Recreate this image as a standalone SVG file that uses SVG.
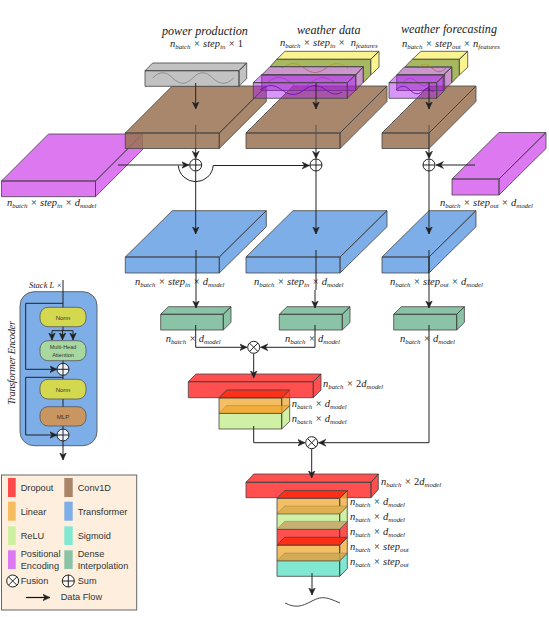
<svg xmlns="http://www.w3.org/2000/svg" width="549" height="617" viewBox="0 0 549 617">
<style>
.b{stroke:#444;stroke-width:.8;stroke-linejoin:round}
.brown{fill:#9b7354;fill-opacity:.86}
.blue{fill:#7eaee8}
.pe{fill:#dc78f0}
.green{fill:#8ac3a5}
.red{fill:#ff3030;fill-opacity:.85}
.orange{fill:#f0a830;fill-opacity:.75}
.lime{fill:#cdf0a0;fill-opacity:.95}
.cyan{fill:#80e8d0}
.gray{fill:#c2c2c2}
.yellow{fill:#faf490}
.olive{fill:#92a63a;fill-opacity:.8}
.mag{fill:#a040a0;fill-opacity:.55}
.pur{fill:#a818f0;fill-opacity:.45}
.w{fill:none;stroke-width:.9}
.l{fill:none;stroke:#222;stroke-width:1}
.f{fill:none;stroke:#555;stroke-width:1}
.c{fill:#fff;fill-opacity:.85;stroke:#222;stroke-width:1}
.t{font-family:"Liberation Serif",serif;font-style:italic;font-size:12.1px;fill:#222}
.d{font-family:"Liberation Serif",serif;font-style:italic;font-size:10.5px;fill:#222}
.d .s{font-size:6.8px}
.d .n{font-style:normal}
.lg{font-family:"Liberation Sans",sans-serif;font-size:9.2px;fill:#333}
</style>
<defs>
<marker id="a" markerWidth="9" markerHeight="9" refX="7.5" refY="4" orient="auto" markerUnits="userSpaceOnUse"><path d="M0 .5L7.5 4L0 7.500L2.500 4z" fill="#222" stroke="#222" stroke-width=".5"/></marker>
<g id="sum"><circle r="6" class="c"/><path d="M-6 0H6M0-6V6" stroke="#222" stroke-width="1"/></g>
<g id="fus"><circle r="6" class="c"/><path d="M-4.200-4.200L4.200 4.200M-4.200 4.200L4.200-4.200" stroke="#222" stroke-width="1"/></g>
</defs>
<g id="pe-left"><path class="b pe" d="M1.500 181h94v15.700h-94zM1.500 181l47-47h94l-47 47zM95.500 181l47-47v15.700l-47 47z"/></g>
<g id="pe-right"><path class="b pe" d="M452 179h47v16h-47zM452 179l47-46.500h47l-47 46.500zM499 179l47-46.500v16l-47 46.500z"/></g>
<g id="conv1"><path class="b brown" d="M125.300 133h94v15.500h-94zM125.300 133l47-47h94l-47 47zM219.300 133l47-47v15.500l-47 47z"/></g>
<g id="conv2"><path class="b brown" d="M246 133h94v15.500h-94zM246 133l47-47h94l-47 47zM340 133l47-47v15.500l-47 47z"/></g>
<g id="conv3"><path class="b brown" d="M382 133h47v15.500h-47zM382 133l47-47h47l-47 47zM429 133l47-47v15.500l-47 47z"/></g>
<g id="power-input"><path class="b gray" d="M145 70.700h94v15.600h-94zM145 70.700l7.700-7.700h94l-7.700 7.700zM239 70.700l7.700-7.700v15.600l-7.700 7.700z"/><path class="w" stroke="#888" d="M152.700 78c7-7 13-7 20 0s13 7 20 0s13-7 20 0s14 7 21 0"/></g>
<g id="weather-input">
<path class="b yellow" d="M276.700 59.300l8.300-8h94l-8.300 8zM370.700 59.300l8.300-8v16l-8.300 7.700z"/>
<path class="b olive" d="M276.700 59.300h94v15.700l-7.500 7.700v-16h-93.200z"/>
<path class="w" stroke="#b0a020" d="M282 68c8-6 14-6 22 0s14 6 22 0s14-6 22 0"/>
<path class="b mag" d="M261.700 75l8.300-8.300h93.300l-7.600 8.300zM261.700 75h94v15.500h-94zM355.700 75l7.600-8.300v15.500l-7.600 8.300z"/>
<path class="w" stroke="#c050c0" d="M268 82c8-6 14-6 22 0s14 6 22 0s14-6 22 0"/>
<path class="b pur" d="M253.300 82.700h94v15.600h-94zM253.300 82.700l8.400-8h94l-8.400 8zM347.300 82.700l8.400-8v15.600l-8.400 8z"/>
<path class="w" stroke="#7010c0" d="M260 90c8-6 14-6 22 0s14 6 22 0s14-6 22 0s12 4 16 2"/>
</g>
<g id="forecast-input">
<path class="b yellow" d="M412.300 59.300l8.700-8h46.700l-8.400 8zM459.300 59.300l8.400-8v16l-8.400 7.700z"/>
<path class="b olive" d="M412.300 59.300h47v15.700l-7.500 7.700v-16h-46.800z"/>
<path class="w" stroke="#b0a020" d="M418 68c5-5 9-5 14 0s9 5 14 0"/>
<path class="b mag" d="M396.700 75l7.300-7.700h47.700l-8.400 7.700zM396.700 75h46.600v15.500h-46.600zM443.300 75l8.400-7.700v15.500l-8.400 7.700z"/>
<path class="w" stroke="#c050c0" d="M403 82c5-5 9-5 14 0s9 5 14 0"/>
<path class="b pur" d="M389 82.700h47.700v15.600h-47.700zM389 82.700l8-8h47.700l-8 8zM436.700 82.700l8-8v15.600l-8 8z"/>
<path class="w" stroke="#7010c0" d="M396 90c5-5 9-5 14 0s9 5 14 0s7 3 10 1"/>
</g>
<g id="trans1"><path class="b blue" d="M125.300 257h94v16h-94zM125.300 257l47-46.300h94l-47 46.300zM219.300 257l47-46.300v16l-47 46.300z"/></g>
<g id="trans2"><path class="b blue" d="M246 257h94v16h-94zM246 257l47-46.300h94l-47 46.300zM340 257l47-46.300v16l-47 46.300z"/></g>
<g id="trans3"><path class="b blue" d="M382 257h47v16h-47zM382 257l47-46.300h47l-47 46.300zM429 257l47-46.300v16l-47 46.300z"/></g>
<g id="dense1"><path class="b green" d="M160.700 314.300h62.600v15.700h-62.600zM160.700 314.300l7.700-7.600h62.600l-7.700 7.600zM223.300 314.300l7.700-7.600v15.700l-7.700 7.600z"/></g>
<g id="dense2"><path class="b green" d="M279.300 314.300h63v15.700h-63zM279.300 314.300l7.700-7.600h63l-7.700 7.600zM342.300 314.300l7.700-7.600v15.700l-7.700 7.600z"/></g>
<g id="dense3"><path class="b green" d="M393.700 314.300h63v15.700h-63zM393.700 314.300l7.700-7.600h63l-7.700 7.600zM456.700 314.300l7.700-7.600v15.700l-7.700 7.600z"/></g>
<g id="stack-a">
<path class="b lime" d="M219 413.300h62.700v15.700h-62.700zM281.700 413.300l8-7.700v15.700l-8 7.700z"/>
<path class="b orange" d="M219 397.700h62.700v15.600h-62.700zM219 397.700l7.700-7.700h63l-8 7.700zM281.700 397.700l8-7.700v15.600l-8 7.700z"/>
<path class="b orange" d="M219 413.300l7.700-7.700h63l-8 7.700z" style="stroke-opacity:.3"/>
<path class="b red" d="M188.300 381.700h125v16h-125zM188.300 381.700l7.700-7.700h125l-7.700 7.700zM313.300 381.700l7.700-7.700v16l-7.700 7.700z"/>
<path class="b" style="fill:#ff2a10;fill-opacity:.8" d="M219 397.700l7.700-7.700h63l-8 7.700z"/>
</g>
<g id="stack-b">
<path class="b red" d="M246 482.300h125v15.400h-125zM246 482.300l7.700-8.300h125l-7.700 8.300zM371 482.300l7.300-8.300v15.400l-7.300 8.300z"/>
<path class="b cyan" d="M277 560.700h62.700v15.600h-62.700zM339.700 560.700l7.600-7.700v15.600l-7.600 7.700z"/>
<path class="b orange" d="M277 545h62.700v15.700h-62.700zM339.700 545l7.600-7.700v15.700l-7.600 7.700z"/>
<path class="b" style="fill:#c8a850;fill-opacity:.8;stroke-opacity:.3" d="M277 560.700l7.600-7.700h62.700l-7.600 7.700z"/>
<path class="b red" d="M277 529h62.700v16h-62.700zM339.700 529l7.600-7.700v16l-7.600 7.700z"/>
<path class="b" style="fill:#ff2a10;fill-opacity:.9" d="M277 545l7.600-7.700h62.700l-7.600 7.700z"/>
<path class="b lime" d="M277 513.700h62.700v15.300h-62.700zM339.700 513.700l7.600-7.700v15.300l-7.600 7.700z"/>
<path class="b" style="fill:#c8b070;stroke-opacity:.3" d="M277 529l7.600-7.700h62.700l-7.600 7.700z"/>
<path class="b orange" d="M277 498.300h62.700v15.400h-62.700zM339.700 498.300l7.600-7.700v15.400l-7.600 7.700z"/>
<path class="b" style="fill:#e0b050;stroke-opacity:.3" d="M277 513.700l7.600-7.700h62.700l-7.600 7.700z"/>
<path class="b" style="fill:#ff2a10;fill-opacity:.9" d="M277 498.300l7.600-7.700h62.700l-7.600 7.700z"/>
</g>
<path id="output-wave" fill="none" stroke="#333" stroke-width=".9" d="M285 603c10 5 16 4 27-2s16-3 28 2"/>
<g id="encoder">
<rect x="20" y="291.700" width="77" height="154" rx="14" fill="#7eaee8" stroke="#555" stroke-width=".9"/>
<g id="enc-norm1"><rect x="40" y="307.300" width="46" height="19.400" rx="8" fill="#d4d84e" stroke="#555" stroke-width=".8"/><text x="63" y="319.500" text-anchor="middle" class="lg" style="font-size:6px">Norm</text></g>
<g id="enc-attn"><rect x="40" y="340.700" width="46" height="20" rx="8" fill="#a8d8a0" stroke="#555" stroke-width=".8"/><text x="63" y="348.500" text-anchor="middle" class="lg" style="font-size:5.500px">Multi-Head</text><text x="63" y="357" text-anchor="middle" class="lg" style="font-size:5.500px">Attention</text></g>
<g id="enc-norm2"><rect x="40" y="379.300" width="46" height="19.700" rx="8" fill="#d4d84e" stroke="#555" stroke-width=".8"/><text x="63" y="391.500" text-anchor="middle" class="lg" style="font-size:6px">Norm</text></g>
<g id="enc-mlp"><rect x="40" y="406.700" width="46" height="19.300" rx="8" fill="#c99560" stroke="#555" stroke-width=".8"/><text x="63" y="418.500" text-anchor="middle" class="lg" style="font-size:6px">MLP</text></g>
<text class="t" style="font-size:10.500px" transform="translate(15 405) rotate(-90)" textLength="84">Transformer Encoder</text>
<text class="t" style="font-size:8.500px" x="29" y="288">Stack L ×</text>
</g>
<g id="connectors">
<path class="l" marker-end="url(#a)" d="M195.700 83V109"/>
<path class="f" d="M195.700 125V148"/>
<path class="l" marker-end="url(#a)" d="M195.700 148V158.500"/>
<path class="l" marker-end="url(#a)" d="M118 165H189"/>
<path class="l" d="M178.300 165.500A17.500 17.500 0 0 0 213.200 165.500"/>
<path class="l" marker-end="url(#a)" d="M213.200 165.500H309.500"/>
<path class="l" marker-end="url(#a)" d="M195.700 171V234"/>
<path class="l" d="M196 250V290"/>
<path class="l" marker-end="url(#a)" d="M196 290V308"/>
<path class="l" marker-end="url(#a)" d="M316 83V109"/>
<path class="f" d="M316 125V148"/>
<path class="l" marker-end="url(#a)" d="M316 148V158.500"/>
<path class="l" marker-end="url(#a)" d="M316 171V234"/>
<path class="l" d="M316 250V290"/>
<path class="l" marker-end="url(#a)" d="M315 290V308"/>
<path class="l" marker-end="url(#a)" d="M429 83V109"/>
<path class="f" d="M429 125V148"/>
<path class="l" marker-end="url(#a)" d="M429 148V158.500"/>
<path class="l" marker-end="url(#a)" d="M475 165H436"/>
<path class="l" marker-end="url(#a)" d="M429 171V234"/>
<path class="l" d="M429 250V290"/>
<path class="l" marker-end="url(#a)" d="M429 290V308"/>
<path class="l" marker-end="url(#a)" d="M195.700 325V347.300H247"/>
<path class="l" marker-end="url(#a)" d="M315 325V347.300H260.500"/>
<path class="l" marker-end="url(#a)" d="M253.700 353.500V378"/>
<path class="l" marker-end="url(#a)" d="M253.700 426V442.700H305"/>
<path class="l" marker-end="url(#a)" d="M429 325V442.700H318.500"/>
<path class="l" marker-end="url(#a)" d="M311.700 449V478"/>
<path class="l" marker-end="url(#a)" d="M312 573V595"/>
<path class="l" d="M63 280V307.300M63 303.300H25.700V369.300"/>
<path class="l" marker-end="url(#a)" d="M25.700 369.300H57"/>
<path class="l" d="M63 326.700V330.700M52 330.700H73"/>
<path class="l" marker-end="url(#a)" d="M52 330.700V340"/>
<path class="l" marker-end="url(#a)" d="M62.500 330.700V340"/>
<path class="l" marker-end="url(#a)" d="M73 330.700V340"/>
<path class="l" d="M63 360.700V363M63 375V379M63 399V406.700M63 426V429M63 377.300H25.700V435"/>
<path class="l" marker-end="url(#a)" d="M25.700 435H57"/>
<path class="l" marker-end="url(#a)" d="M63 441V460"/>
<use href="#sum" x="195.700" y="165"/>
<use href="#sum" x="316" y="165"/>
<use href="#sum" x="429" y="165"/>
<use href="#fus" x="253.700" y="347.300"/>
<use href="#fus" x="311.700" y="442.700"/>
<use href="#sum" x="63" y="369.300"/>
<use href="#sum" x="63" y="435"/>
</g>
<g id="titles">
<text class="t" x="162" y="35">power production</text>
<text class="t" x="297" y="34">weather data</text>
<text class="t" x="401" y="33">weather forecasting</text>
</g>
<g id="dims">
<text class="d" x="170" y="47">n<tspan class="s" dy="2">batch</tspan><tspan dy="-2" dx="3">×</tspan><tspan> step</tspan><tspan class="s" dy="2">in</tspan><tspan dy="-2"> ×</tspan><tspan class="n"> 1</tspan></text>
<text class="d" x="280" y="46">n<tspan class="s" dy="2">batch</tspan><tspan dy="-2" dx="3">×</tspan><tspan> step</tspan><tspan class="s" dy="2">in</tspan><tspan dy="-2"> ×</tspan><tspan dx="3"> n</tspan><tspan class="s" dy="2">features</tspan></text>
<text class="d" x="402" y="47">n<tspan class="s" dy="2">batch</tspan><tspan dy="-2" dx="3">×</tspan><tspan> step</tspan><tspan class="s" dy="2">out</tspan><tspan dy="-2"> ×</tspan><tspan> n</tspan><tspan class="s" dy="2">features</tspan></text>
<text class="d" x="7" y="206">n<tspan class="s" dy="2">batch</tspan><tspan dy="-2" dx="3">×</tspan><tspan> step</tspan><tspan class="s" dy="2">in</tspan><tspan dy="-2"> ×</tspan><tspan> d</tspan><tspan class="s" dy="2">model</tspan></text>
<text class="d" x="440" y="206">n<tspan class="s" dy="2">batch</tspan><tspan dy="-2" dx="3">×</tspan><tspan> step</tspan><tspan class="s" dy="2">out</tspan><tspan dy="-2"> ×</tspan><tspan> d</tspan><tspan class="s" dy="2">model</tspan></text>
<text class="d" x="135" y="285">n<tspan class="s" dy="2">batch</tspan><tspan dy="-2" dx="3">×</tspan><tspan> step</tspan><tspan class="s" dy="2">in</tspan><tspan dy="-2"> ×</tspan><tspan> d</tspan><tspan class="s" dy="2">model</tspan></text>
<text class="d" x="254" y="285">n<tspan class="s" dy="2">batch</tspan><tspan dy="-2" dx="3">×</tspan><tspan> step</tspan><tspan class="s" dy="2">in</tspan><tspan dy="-2"> ×</tspan><tspan> d</tspan><tspan class="s" dy="2">model</tspan></text>
<text class="d" x="390" y="285">n<tspan class="s" dy="2">batch</tspan><tspan dy="-2" dx="3">×</tspan><tspan> step</tspan><tspan class="s" dy="2">out</tspan><tspan dy="-2"> ×</tspan><tspan> d</tspan><tspan class="s" dy="2">model</tspan></text>
<text class="d" x="165.700" y="342">n<tspan class="s" dy="2">batch</tspan><tspan dy="-2" dx="3">×</tspan><tspan> d</tspan><tspan class="s" dy="2">model</tspan></text>
<text class="d" x="285" y="342">n<tspan class="s" dy="2">batch</tspan><tspan dy="-2" dx="3">×</tspan><tspan> d</tspan><tspan class="s" dy="2">model</tspan></text>
<text class="d" x="400" y="342">n<tspan class="s" dy="2">batch</tspan><tspan dy="-2" dx="3">×</tspan><tspan> d</tspan><tspan class="s" dy="2">model</tspan></text>
<text class="d" x="323" y="387">n<tspan class="s" dy="2">batch</tspan><tspan dy="-2" dx="3">×</tspan><tspan class="n"> 2</tspan><tspan>d</tspan><tspan class="s" dy="2">model</tspan></text>
<text class="d" x="291.700" y="407">n<tspan class="s" dy="2">batch</tspan><tspan dy="-2" dx="3">×</tspan><tspan> d</tspan><tspan class="s" dy="2">model</tspan></text>
<text class="d" x="291.700" y="422">n<tspan class="s" dy="2">batch</tspan><tspan dy="-2" dx="3">×</tspan><tspan> d</tspan><tspan class="s" dy="2">model</tspan></text>
<text class="d" x="381" y="485">n<tspan class="s" dy="2">batch</tspan><tspan dy="-2" dx="3">×</tspan><tspan class="n"> 2</tspan><tspan>d</tspan><tspan class="s" dy="2">model</tspan></text>
<text class="d" x="350" y="505">n<tspan class="s" dy="2">batch</tspan><tspan dy="-2" dx="3">×</tspan><tspan> d</tspan><tspan class="s" dy="2">model</tspan></text>
<text class="d" x="350" y="520">n<tspan class="s" dy="2">batch</tspan><tspan dy="-2" dx="3">×</tspan><tspan> d</tspan><tspan class="s" dy="2">model</tspan></text>
<text class="d" x="350" y="535">n<tspan class="s" dy="2">batch</tspan><tspan dy="-2" dx="3">×</tspan><tspan> d</tspan><tspan class="s" dy="2">model</tspan></text>
<text class="d" x="350" y="550">n<tspan class="s" dy="2">batch</tspan><tspan dy="-2" dx="3">×</tspan><tspan> step</tspan><tspan class="s" dy="2">out</tspan></text>
<text class="d" x="350" y="565">n<tspan class="s" dy="2">batch</tspan><tspan dy="-2" dx="3">×</tspan><tspan> step</tspan><tspan class="s" dy="2">out</tspan></text>
</g>
<g id="legend">
<rect x="1.500" y="475" width="135.200" height="135" fill="#fdeedd" stroke="#666" stroke-width="1"/>
<rect x="8" y="478" width="7.700" height="19" fill="#ff4a4a"/><rect x="8" y="501.700" width="7.700" height="19" fill="#f5bd5f"/><rect x="8" y="526.300" width="7.700" height="18.700" fill="#cdf0a0"/><rect x="8" y="550.300" width="7.700" height="18.700" fill="#dc78f0"/>
<rect x="64.300" y="478" width="8.400" height="19" fill="#a98467"/><rect x="64.300" y="501.700" width="8.400" height="19" fill="#7eaee8"/><rect x="64.300" y="526.300" width="8.400" height="18.700" fill="#80e8d0"/><rect x="64.300" y="550.300" width="8.400" height="18.700" fill="#8ac3a5"/>
<text class="lg" x="20.700" y="491">Dropout</text><text class="lg" x="77.700" y="491">Conv1D</text>
<text class="lg" x="20.700" y="515">Linear</text><text class="lg" x="77.700" y="515">Transformer</text>
<text class="lg" x="20.700" y="539.300">ReLU</text><text class="lg" x="77.700" y="539.300">Sigmoid</text>
<text class="lg" x="20.700" y="557">Positional</text><text class="lg" x="20.700" y="569">Encoding</text>
<text class="lg" x="77.700" y="557">Dense</text><text class="lg" x="77.700" y="569">Interpolation</text>
<use href="#fus" x="12.700" y="581"/><text class="lg" x="20.700" y="584.300">Fusion</text>
<use href="#sum" x="68.300" y="581"/><text class="lg" x="77.700" y="584.300">Sum</text>
<path d="M26 597.500H50" stroke="#111" stroke-width="1.200" fill="none" marker-end="url(#a)"/><text class="lg" x="60.700" y="600">Data Flow</text>
</g>
</svg>
